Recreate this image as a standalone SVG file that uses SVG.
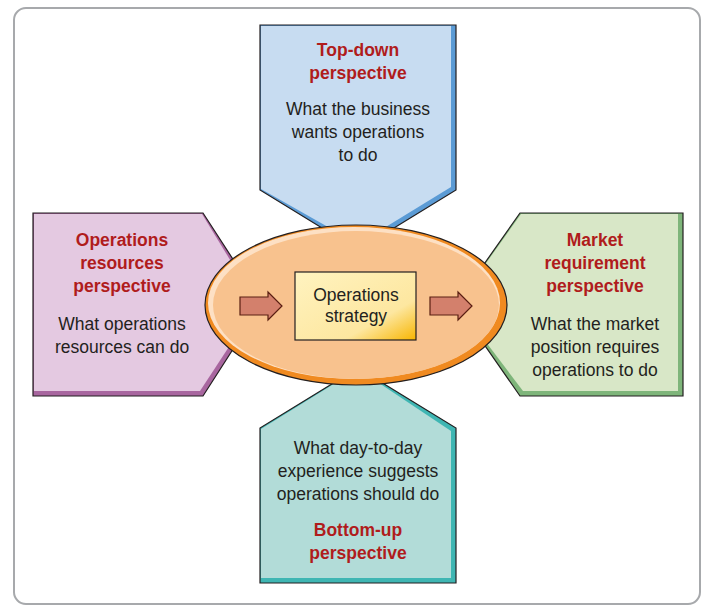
<svg xmlns="http://www.w3.org/2000/svg" width="713" height="612" viewBox="0 0 713 612">
<defs>
<style>
.t{font-family:"Liberation Sans",Arial,sans-serif;font-size:17.5px;fill:#231f20;text-anchor:middle}
.h{font-family:"Liberation Sans",Arial,sans-serif;font-size:17.5px;font-weight:bold;fill:#b01c1c;text-anchor:middle}
.o{stroke:#231f20;stroke-width:1.2}
</style>
<linearGradient id="gy" x1="0" y1="0" x2="1" y2="1"><stop offset="0" stop-color="#fff3c0"/><stop offset="0.7" stop-color="#fde7a0"/><stop offset="1" stop-color="#f7b500"/></linearGradient>
</defs>
<rect x="14" y="8" width="686" height="596" rx="12" fill="#fff" stroke="#a7a9ac" stroke-width="2"/>
<g id="top">
<polygon class="o" points="260,25 456,25 456,190 358,250 260,190" fill="#5b9bd5"/>
<polygon points="261,26 451,26 451,187 358,244 261,189" fill="#c7dcf1"/>
<text class="h" x="358" y="56">Top-down</text><text class="h" x="358" y="79">perspective</text>
<text class="t" x="358" y="115">What the business</text><text class="t" x="358" y="138">wants operations</text><text class="t" x="358" y="161">to do</text>
</g>
<g id="bottom">
<polygon class="o" points="260,583 260,428 358,368 456,428 456,583" fill="#3fb6b3"/>
<polygon points="261,578 261,429 358,369 451,431 451,578" fill="#b2dcd8"/>
<text class="t" x="358" y="454">What day-to-day</text><text class="t" x="358" y="477">experience suggests</text><text class="t" x="358" y="500">operations should do</text>
<text class="h" x="358" y="536">Bottom-up</text><text class="h" x="358" y="559">perspective</text>
</g>
<g id="left">
<polygon class="o" points="33,213 203,213 262,304 203,396 33,396" fill="#a8669f"/>
<polygon points="34,214 202,214 257,304 200,391 34,391" fill="#e4c9e1"/>
<text class="h" x="122" y="246">Operations</text><text class="h" x="122" y="269">resources</text><text class="h" x="122" y="292">perspective</text>
<text class="t" x="122" y="330">What operations</text><text class="t" x="122" y="353">resources can do</text>
</g>
<g id="right">
<polygon class="o" points="683,213 520,213 456,304 520,396 683,396" fill="#7eb57a"/>
<polygon points="678,214 521,214 457,304 523,391 678,391" fill="#d8e7c7"/>
<text class="h" x="595" y="246">Market</text><text class="h" x="595" y="269">requirement</text><text class="h" x="595" y="292">perspective</text>
<text class="t" x="595" y="330">What the market</text><text class="t" x="595" y="353">position requires</text><text class="t" x="595" y="376">operations to do</text>
</g>
<g id="center">
<ellipse cx="356" cy="305" rx="151" ry="80" fill="#f08a20" class="o"/>
<ellipse cx="354" cy="303" rx="146" ry="76" fill="#fde0c4"/>
<ellipse cx="356" cy="305" rx="143" ry="74" fill="#f8c28e"/>
<rect x="295" y="272" width="121" height="68" fill="url(#gy)" class="o"/>
<text class="t" x="356" y="301">Operations</text><text class="t" x="356" y="322">strategy</text>
</g>
<g id="connectors">
<polygon points="240,297 268,297 268,292 282,306 268,320 268,315 240,315" fill="#d3806c" stroke="#5a1e12" stroke-width="1.2"/>
<polygon points="430,297 458,297 458,292 472,306 458,320 458,315 430,315" fill="#d3806c" stroke="#5a1e12" stroke-width="1.2"/>
</g>
</svg>
